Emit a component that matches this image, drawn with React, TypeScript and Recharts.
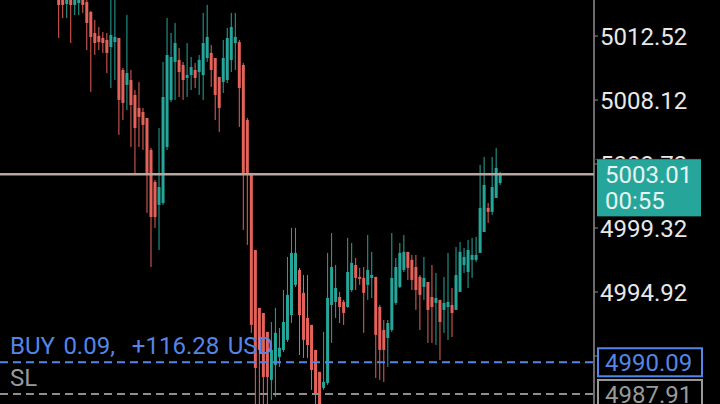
import React from 'react';
import { ComposedChart, Bar, XAxis, YAxis, ReferenceLine } from 'recharts';

// OHLC values (left to right)
const opens = [
  5015.69, 5015.34, 5014.73, 5015.34, 5014.66, 5014.79, 5015.21, 5014.86, 5014.18, 5012.73,
  5012.53, 5012.39, 5012.25, 5011.77, 5012.11, 5012.39, 5010.19, 5009.16, 5009.50, 5008.47,
  5007.58, 5007.30, 5006.89, 5004.69, 5002.49, 5000.91, 5001.04, 5004.89, 5008.13, 5010.74,
  5010.88, 5010.53, 5009.64, 5009.84, 5010.19, 5010.05, 5009.84, 5011.01, 5011.36, 5011.01,
  5009.71, 5009.36, 5009.50, 5010.88, 5012.04, 5012.11, 5010.53, 5006.75, 5003.11, 4997.81,
  4993.83, 4993.48, 4992.18, 4988.88, 4989.91, 4990.46, 4990.94, 4991.63, 4993.34, 4995.41,
  4996.44, 4994.86, 4993.14, 4992.66, 4990.94, 4989.43, 4988.33, 4988.67, 4994.03, 4994.24,
  4994.58, 4994.24, 4993.89, 4995.06, 4996.78, 4995.96, 4995.89, 4995.41, 4995.89, 4995.96,
  4993.89, 4992.31, 4991.76, 4992.31, 4994.17, 4995.27, 4996.44, 4997.68, 4997.13, 4996.64,
  4995.96, 4995.27, 4995.61, 4994.58, 4994.17, 4994.38, 4993.69, 4993.89, 4994.03, 4993.69,
  4994.93, 4996.78, 4996.30, 4997.13, 4997.13, 4997.61, 4999.05, 5000.70, 5000.43, 5001.39,
  5002.42,
];
const highs = [
  5016.03, 5016.03, 5015.69, 5015.69, 5015.69, 5015.83, 5015.55, 5015.34, 5014.24, 5013.63,
  5013.14, 5012.80, 5012.73, 5015.21, 5015.21, 5012.39, 5010.33, 5013.97, 5010.19, 5008.81,
  5009.36, 5007.58, 5006.89, 5004.83, 5002.63, 5006.20, 5010.74, 5013.76, 5012.73, 5013.42,
  5011.70, 5010.74, 5012.04, 5011.08, 5010.67, 5011.22, 5014.11, 5014.66, 5011.91, 5011.01,
  5009.71, 5012.25, 5013.08, 5014.11, 5014.11, 5012.25, 5010.67, 5006.89, 5003.11, 4997.81,
  4993.83, 4993.48, 4992.18, 4992.86, 4993.83, 4992.45, 4995.06, 4997.33, 4999.33, 4999.33,
  4996.58, 4996.09, 4996.09, 4992.66, 4990.94, 4989.43, 4992.18, 4997.61, 4998.98, 4996.78,
  4994.93, 4994.38, 4998.64, 4998.29, 4997.26, 4996.58, 4996.64, 4998.84, 4997.68, 4995.96,
  4994.03, 4993.00, 4993.00, 4998.98, 4997.26, 4998.29, 4998.84, 4997.68, 4997.47, 4997.47,
  4996.09, 4997.33, 4995.61, 4996.78, 4996.23, 4994.38, 4995.96, 4997.61, 4995.20, 4998.02,
  4998.36, 4997.95, 4998.50, 4998.64, 4998.71, 5003.66, 5004.21, 5001.04, 5004.21, 5004.83,
  5003.18,
];
const lows = [
  5012.39, 5013.76, 5013.76, 5012.04, 5013.97, 5013.97, 5014.11, 5011.56, 5008.68, 5011.22,
  5011.56, 5011.36, 5009.98, 5008.95, 5009.50, 5005.72, 5006.75, 5007.44, 5004.89, 5002.97,
  5004.89, 5004.69, 5000.36, 4996.64, 4999.33, 4997.81, 5000.91, 5004.69, 5007.99, 5008.13,
  5008.33, 5008.13, 5008.33, 5008.81, 5008.95, 5008.47, 5008.13, 5010.74, 5009.02, 5006.75,
  5005.93, 5008.61, 5009.29, 5010.05, 5010.19, 5006.27, 4999.19, 4998.16, 4992.11, 4986.81,
  4986.81, 4986.81, 4986.81, 4987.50, 4987.71, 4989.77, 4990.80, 4991.49, 4992.79, 4995.27,
  4990.59, 4990.39, 4990.39, 4988.19, 4986.81, 4986.47, 4988.19, 4988.53, 4991.42, 4993.14,
  4992.79, 4992.66, 4993.83, 4994.93, 4995.06, 4995.41, 4992.11, 4994.38, 4994.51, 4989.01,
  4988.88, 4988.74, 4989.77, 4992.18, 4994.03, 4995.20, 4996.30, 4995.75, 4995.06, 4993.69,
  4992.31, 4994.38, 4991.42, 4991.42, 4991.28, 4990.25, 4992.11, 4991.63, 4991.83, 4993.69,
  4994.93, 4996.23, 4995.20, 4995.89, 4996.99, 4997.61, 4999.05, 4999.67, 5000.22, 5001.39,
  5002.28,
];
const closes = [
  5014.66, 5014.66, 5015.21, 5014.66, 5015.21, 5015.34, 5014.66, 5013.42, 5012.46, 5012.04,
  5012.11, 5012.04, 5011.36, 5012.59, 5012.46, 5008.13, 5007.92, 5009.98, 5007.78, 5006.20,
  5006.96, 5006.41, 5003.11, 5000.08, 5000.08, 5002.14, 5008.33, 5011.22, 5011.08, 5012.04,
  5010.05, 5009.50, 5009.84, 5010.39, 5009.64, 5010.88, 5012.04, 5012.46, 5010.19, 5008.47,
  5007.58, 5011.01, 5012.39, 5013.14, 5012.46, 5008.95, 5003.11, 5003.11, 4992.66, 4989.70,
  4990.94, 4989.08, 4989.08, 4990.94, 4992.11, 4991.08, 4992.86, 4994.72, 4997.61, 4997.61,
  4993.34, 4991.63, 4991.28, 4989.56, 4987.84, 4986.81, 4988.74, 4994.51, 4996.64, 4995.20,
  4993.89, 4993.48, 4996.30, 4996.92, 4995.89, 4995.82, 4994.86, 4996.44, 4996.09, 4991.97,
  4990.94, 4990.94, 4992.79, 4995.89, 4996.64, 4997.61, 4997.68, 4996.58, 4995.75, 4995.06,
  4994.72, 4995.89, 4993.69, 4993.89, 4994.51, 4992.86, 4994.17, 4994.24, 4993.48, 4996.09,
  4997.68, 4997.33, 4997.81, 4997.47, 4997.47, 5000.70, 5002.28, 5000.43, 5002.14, 5003.45,
  5003.01,
];

const yTicks = [4990.52, 4994.92, 4999.32, 5003.72, 5008.12, 5012.52];
const yDomain = [4987.22, 5015.0];
const currentPrice = 5003.01;
const timerText = '00:55';
const buyPrice = 4990.09;
const buyText = 'BUY 0.09,  +116.28 USD';
const slPrice = 4987.91;
const slText = 'SL';

const LEAD_SLOTS = 14;
const TOTAL_SLOTS = 148;

const RED = '#e5625b';
const TEAL = '#26a69a';
const BLUE = '#5585e6';
const GREY = '#8e8e8e';
const FONT = 'Roboto, "Noto Sans", sans-serif';

const data = Array.from({ length: TOTAL_SLOTS }, (_, k) => {
  const j = k - LEAD_SLOTS;
  if (j >= 0 && j < opens.length) {
    return { i: k, o: opens[j], h: highs[j], l: lows[j], c: closes[j], range: [lows[j], highs[j]] };
  }
  return { i: k, range: null };
});

const Candle = (props: any) => {
  const { x, y, width, height, payload } = props;
  if (!payload || payload.o == null || height == null) return null;
  const { o, h, l, c } = payload;
  const yHigh = y;
  const yLow = y + height;
  const py = (v: number) => yHigh + ((h - v) / (h - l)) * (yLow - yHigh);
  const up = c >= o;
  const color = up ? TEAL : RED;
  const cx = x + width / 2;
  const top = py(Math.max(o, c));
  const bot = py(Math.min(o, c));
  return (
    <g>
      <line x1={cx} x2={cx} y1={Math.min(yHigh, yLow)} y2={Math.max(yHigh, yLow)} stroke={color} strokeWidth={1} />
      <rect x={x} y={top} width={width} height={Math.max(1, bot - top)} fill={color} />
    </g>
  );
};

const CurrentTag = (props: any) => {
  const { viewBox, value, timer } = props;
  if (!viewBox) return null;
  const right = viewBox.x + viewBox.width;
  const y = viewBox.y;
  const bx = right + 3;
  return (
    <g>
      <line x1={right} x2={bx + 104} y1={y - 15} y2={y - 15} stroke="#7a3434" strokeWidth={1} />
      <rect x={bx} y={y - 15} width={104} height={57} fill={TEAL} />
      <text x={bx + 8} y={y} dy="0.36em" fill="#e6f4f2" fontSize={24} fontFamily={FONT}>{value}</text>
      <text x={bx + 8} y={y + 26} dy="0.36em" fill="#e6f4f2" fontSize={24} fontFamily={FONT}>{timer}</text>
    </g>
  );
};

const OrderTag = (props: any) => {
  const { viewBox, value, text, color } = props;
  if (!viewBox) return null;
  const right = viewBox.x + viewBox.width;
  const y = viewBox.y;
  const bx = right + 4;
  return (
    <g>
      <text
        x={viewBox.x + 10}
        y={y - 8}
        fill={color}
        fontSize={24}
        fontFamily={FONT}
        xmlSpace="preserve"
        style={{ whiteSpace: 'pre', wordSpacing: 2.5 }}
      >
        {text}
      </text>
      <rect x={bx} y={y - 14} width={104} height={28} fill="#000" stroke={color} strokeWidth={2} />
      <text x={bx + 7} y={y} dy="0.36em" fill={color} fontSize={24} fontFamily={FONT}>{value}</text>
    </g>
  );
};

export default function App() {
  return (
    <div style={{ position: 'absolute', left: 0, top: 0, width: 720, height: 404, background: '#000', overflow: 'hidden' }}>
      <div style={{ position: 'absolute', left: 0, top: 0 }}>
        <ComposedChart
          width={720}
          height={404}
          data={data}
          margin={{ top: 0, right: 0, bottom: 0, left: 0 }}
          barCategoryGap={0}
          style={{ background: '#000', fontFamily: FONT }}
        >
          <XAxis dataKey="i" hide />
          <YAxis
            orientation="right"
            width={126}
            domain={yDomain}
            allowDataOverflow
            ticks={yTicks}
            tickFormatter={(v: number) => v.toFixed(2)}
            tick={{ fill: '#e8e8e8', fontSize: 24, fontFamily: FONT }}
            tickSize={4}
            tickMargin={2}
            tickLine={{ stroke: GREY }}
            axisLine={{ stroke: GREY, strokeWidth: 1.5 }}
          />
          <Bar dataKey="range" barSize={3} shape={<Candle />} isAnimationActive={false} />
        </ComposedChart>
      </div>
      <div style={{ position: 'absolute', left: 0, top: 0 }}>
        <ComposedChart
          width={720}
          height={404}
          data={data}
          margin={{ top: 0, right: 126, bottom: 0, left: 0 }}
          style={{ fontFamily: FONT }}
        >
          <XAxis dataKey="i" hide />
          <YAxis hide domain={yDomain} allowDataOverflow />
          <ReferenceLine
            y={currentPrice}
            stroke="#b8a6a0"
            strokeWidth={2.5}
            label={(p: any) => <CurrentTag {...p} value={currentPrice.toFixed(2)} timer={timerText} />}
          />
          <ReferenceLine
            y={buyPrice}
            stroke={BLUE}
            strokeWidth={2}
            strokeDasharray="8 5"
            label={(p: any) => <OrderTag {...p} value={buyPrice.toFixed(2)} text={buyText} color={BLUE} />}
          />
          <ReferenceLine
            y={slPrice}
            stroke={GREY}
            strokeWidth={2}
            strokeDasharray="8 5"
            label={(p: any) => <OrderTag {...p} value={slPrice.toFixed(2)} text={slText} color="#999" />}
          />
        </ComposedChart>
      </div>
    </div>
  );
}
